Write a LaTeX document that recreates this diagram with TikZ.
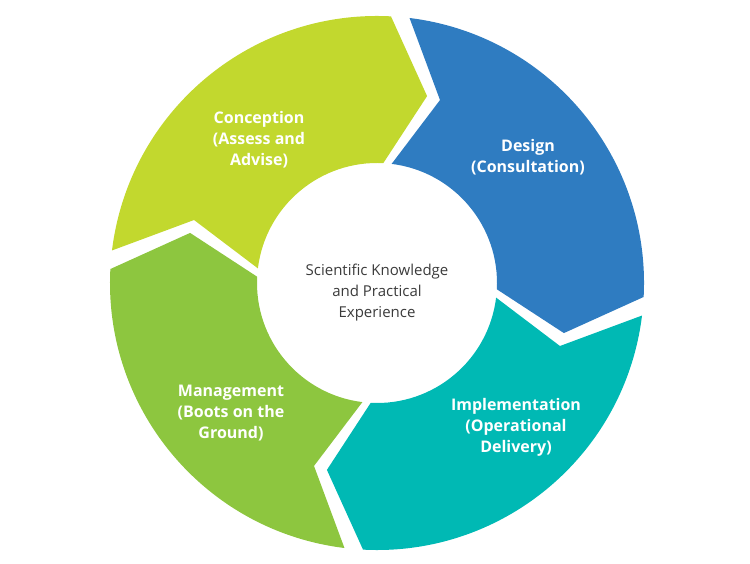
\documentclass[tikz,border=0pt]{standalone}
\usepackage{fontspec}
\setmainfont{Open Sans}
\definecolor{cConc}{HTML}{C2D82E}
\definecolor{cDes}{HTML}{2F7CC1}
\definecolor{cImp}{HTML}{00B9B4}
\definecolor{cMan}{HTML}{8DC63F}
\definecolor{cTxt}{HTML}{3B3B3B}
\newcommand\mysegment[3]{% color, start angle, end angle
  \fill[#1] (C)++(#2-2:267) arc[start angle=#2-2,end angle=#3+2,radius=267]
    -- ($(C)+(#3+2-12:193.5)$) -- ($(C)+(#3+2:120)$)
    arc[start angle=#3+2,end angle=#2-2,radius=120]
    -- ($(C)+(#2-2-12:193.5)$) -- cycle;}
\usetikzlibrary{calc}
\begin{document}
\begin{tikzpicture}[x=1pt,y=1pt,
  lab/.style={text=white,font=\bfseries\fontsize{16}{21}\selectfont,align=center},
  mid/.style={text=cTxt,font=\fontsize{15}{21}\selectfont,align=center}]
\useasboundingbox (0,0) rectangle (750,563);
\coordinate (C) at (377,280);
\mysegment{cConc}{175}{85}
\mysegment{cDes}{85}{-5}
\mysegment{cImp}{-5}{-95}
\mysegment{cMan}{-95}{-185}
\node[lab] (conc) at (259,423) {Conception\\(Assess and\\Advise)};
\node[lab] (des) at (528,406) {Design\\(Consultation)};
\node[lab] (imp) at (516,136) {Implementation\\(Operational\\Delivery)};
\node[lab] (man) at (231,150) {Management\\(Boots on the\\Ground)};
\node[mid] (ctr) at (377,270) {Scientific Knowledge\\and Practical\\Experience};
\end{tikzpicture}
\end{document}
